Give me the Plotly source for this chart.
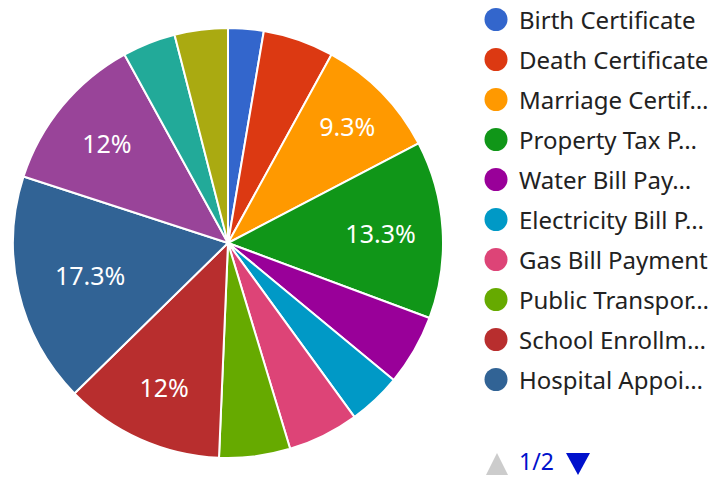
import plotly.graph_objects as go

# ---- data ----
services = ["Birth Certificate", "Death Certificate", "Marriage Certificate",
            "Property Tax Payment", "Water Bill Payment", "Electricity Bill Payment",
            "Gas Bill Payment", "Public Transport Pass", "School Enrollment",
            "Hospital Appointment", "Library Membership", "Parking Permit",
            "Business License"]
requests = [2, 4, 7, 10, 4, 3, 4, 4, 9, 13, 9, 3, 3]
legend_labels = ["Birth Certificate", "Death Certificate", "Marriage Certif…",
                 "Property Tax P…", "Water Bill Pay…", "Electricity Bill P…",
                 "Gas Bill Payment", "Public Transpor…", "School Enrollm…",
                 "Hospital Appoi…"]
colors = ["#3366cc", "#dc3912", "#ff9900", "#109618", "#990099", "#0099c6",
          "#dd4477", "#66aa00", "#b82e2e", "#316395", "#994499", "#22aa99",
          "#aaaa11"]
page_text = "1/2"

W, H = 713, 477
total = sum(requests)

def fmt(v):
    p = v / total * 100
    s = f"{p:.1f}".rstrip("0").rstrip(".")
    return s + "%"

slice_text = [fmt(v) if v / total * 360 >= 30 else "" for v in requests]

def px(x):
    return x / W

def py(y):
    return 1 - y / H

fig = go.Figure(go.Pie(
    labels=services,
    values=requests,
    text=slice_text,
    textinfo="text",
    textposition="inside",
    insidetextorientation="horizontal",
    textfont=dict(family="Noto Sans", size=25, color="white"),
    marker=dict(colors=colors, line=dict(color="white", width=2)),
    sort=False,
    direction="clockwise",
    rotation=0,
    domain=dict(x=[px(13), px(443)], y=[py(458), py(28)]),
    showlegend=False,
    hoverinfo="label+value+percent",
))

shapes = []
annotations = []
for i, lab in enumerate(legend_labels):
    cy = 19.5 + 40 * i
    shapes.append(dict(type="circle", xref="paper", yref="paper",
                       xsizemode="pixel", ysizemode="pixel",
                       xanchor=px(496), yanchor=py(cy),
                       x0=-11.5, x1=11.5, y0=-11.5, y1=11.5,
                       fillcolor=colors[i], line=dict(width=0)))
    annotations.append(dict(x=px(516.5), y=py(cy), xref="paper", yref="paper",
                            text=lab, showarrow=False, xanchor="left",
                            yanchor="middle",
                            font=dict(family="Noto Sans", size=24, color="#222222")))

# pager
shapes.append(dict(type="path", xref="paper", yref="paper",
                   xsizemode="pixel", ysizemode="pixel",
                   xanchor=px(497), yanchor=py(464),
                   path="M -11 -11 L 11 -11 L 0 11 Z",
                   fillcolor="#cccccc", line=dict(width=0)))
shapes.append(dict(type="path", xref="paper", yref="paper",
                   xsizemode="pixel", ysizemode="pixel",
                   xanchor=px(578), yanchor=py(464),
                   path="M -12 11 L 12 11 L 0 -11 Z",
                   fillcolor="#0011cc", line=dict(width=0)))
annotations.append(dict(x=px(516.5), y=py(461), xref="paper", yref="paper",
                        text=page_text, showarrow=False, xanchor="left",
                        yanchor="middle",
                        font=dict(family="Noto Sans", size=23, color="#0011cc")))

fig.update_layout(
    width=W, height=H,
    margin=dict(l=0, r=0, t=0, b=0),
    paper_bgcolor="white",
    plot_bgcolor="white",
    shapes=shapes,
    annotations=annotations,
    uniformtext=dict(minsize=25, mode="show"),
)

fig.write_html("out.html")
